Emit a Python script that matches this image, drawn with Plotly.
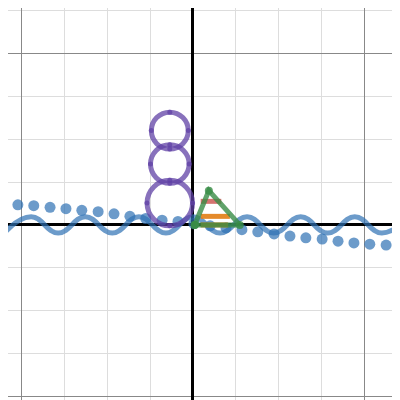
import plotly.graph_objects as go

# wave extrema (x, y)
wave_x = [-4.40, -3.77, -3.14, -2.51, -1.88, -1.26, -0.63, 0.0, 0.63, 1.26, 1.88, 2.51, 3.14, 3.77, 4.40, 5.03]
wave_y = [-0.19, 0.19, -0.19, 0.19, -0.19, 0.19, -0.19, 0.19, -0.19, 0.19, -0.19, 0.19, -0.19, 0.19, -0.19, 0.19]

dot_x = [-4.08, -3.71, -3.33, -2.96, -2.59, -2.21, -1.84, -1.47, -1.10, -0.72, -0.35, 0.02, 0.40,
         0.77, 1.14, 1.51, 1.89, 2.26, 2.63, 3.01, 3.38, 3.75, 4.12, 4.50, 4.87]
dot_y = [0.47, 0.45, 0.41, 0.38, 0.34, 0.31, 0.26, 0.20, 0.15, 0.11, 0.08, 0.03, -0.02,
         -0.07, -0.11, -0.16, -0.21, -0.26, -0.30, -0.33, -0.38, -0.42, -0.45, -0.47, -0.53]

circle_cx = [-0.54, -0.54, -0.54]
circle_cy = [0.51, 1.42, 2.20]
circle_r = [0.53, 0.45, 0.43]

tri_x = [0.04, 0.37, 1.09, 0.04]
tri_y = [0.0, 0.80, 0.0, 0.0]
red_x = [0.18, 0.66]; red_y = [0.55, 0.55]
orange1_x = [0.18, 0.86]; orange1_y = [0.20, 0.20]
orange2_x = [0.18, 0.82]; orange2_y = [0.0, 0.0]

BLUE = "rgba(45,112,179,0.7)"
PURPLE = "rgba(96,66,166,0.75)"
GREEN = "rgba(56,140,70,0.8)"
RED = "rgba(199,68,64,0.75)"
ORANGE = "rgba(225,125,20,0.9)"

fig = go.Figure()
fig.add_trace(go.Scatter(x=wave_x, y=wave_y, mode="lines", line=dict(color=BLUE, width=5, shape="spline", smoothing=1.3)))
fig.add_trace(go.Scatter(x=dot_x, y=dot_y, mode="markers", marker=dict(color=BLUE, size=11)))
for cx, cy, r in zip(circle_cx, circle_cy, circle_r):
    fig.add_shape(type="circle", x0=cx - r, x1=cx + r, y0=cy - r, y1=cy + r,
                  line=dict(color=PURPLE, width=5))
    fig.add_trace(go.Scatter(x=[cx - r, cx + r, cx, cx], y=[cy, cy, cy - r, cy + r], mode="markers",
                             marker=dict(color=PURPLE, size=5)))
fig.add_trace(go.Scatter(x=red_x, y=red_y, mode="lines", line=dict(color=RED, width=5)))
fig.add_trace(go.Scatter(x=orange1_x, y=orange1_y, mode="lines", line=dict(color=ORANGE, width=5)))
fig.add_trace(go.Scatter(x=orange2_x, y=orange2_y, mode="lines", line=dict(color=ORANGE, width=5)))
fig.add_trace(go.Scatter(x=tri_x, y=tri_y, mode="lines+markers", line=dict(color=GREEN, width=5),
                         marker=dict(color=GREEN, size=8)))

ax = dict(dtick=4, tick0=0, showgrid=True, gridcolor="#888888", gridwidth=1.3,
          minor=dict(dtick=1, tick0=0, showgrid=True, gridcolor="#dddddd", gridwidth=1),
          zeroline=True, zerolinecolor="black", zerolinewidth=2.5,
          showticklabels=False, ticks="", fixedrange=True, automargin=False, showline=False)
fig.update_layout(width=400, height=400, margin=dict(l=0, r=0, t=0, b=0, pad=0),
                  plot_bgcolor="white", paper_bgcolor="white", showlegend=False,
                  xaxis=dict(range=[-4.31, 5.01], **ax), yaxis=dict(range=[-4.27, 5.06], **ax))
fig.write_html("out.html", config=dict(displayModeBar=False))
